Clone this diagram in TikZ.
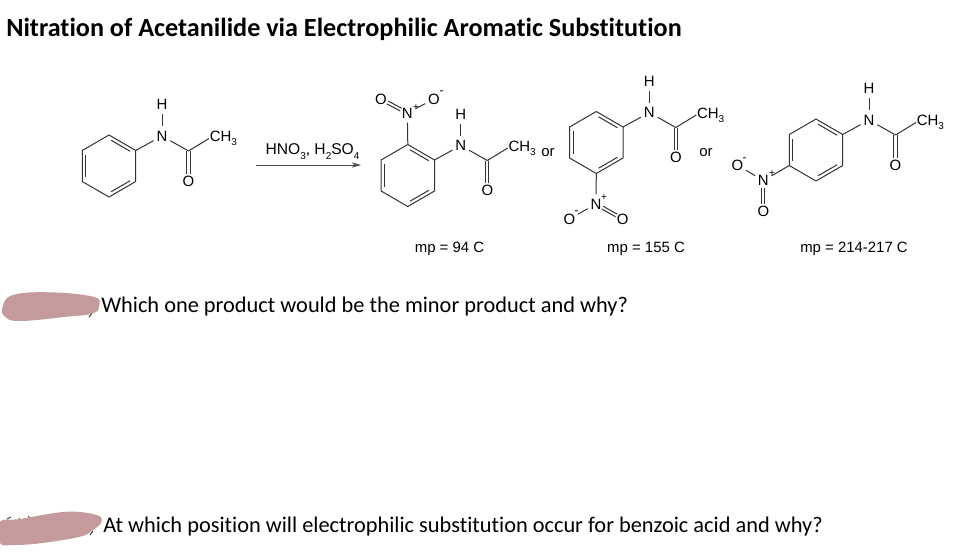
\documentclass[tikz,border=0pt]{standalone}
\usepackage{fontspec}
\setmainfont{Liberation Sans}
\newfontfamily\calfnt[Ligatures=CommonOff]{Carlito}
\usetikzlibrary{calc,arrows.meta}
\definecolor{blot}{HTML}{C49A9C}
\newcommand{\sbs}[1]{\raisebox{-0.28em}{\fontsize{7.5}{8}\selectfont #1}}
% double bond as two parallel lines: start shortening, end shortening, from, to
\newcommand{\dblbond}[4]{\draw[bond,shorten <=#1,shorten >=#2] ($(#3)!1.15pt!90:(#4)$)--($(#4)!1.15pt!-90:(#3)$);
  \draw[bond,shorten <=#1,shorten >=#2] ($(#3)!1.15pt!-90:(#4)$)--($(#4)!1.15pt!90:(#3)$);}
\tikzset{
  x=0.75pt,y=-0.75pt,
  atom/.style={font=\fontsize{11.2}{13}\selectfont,inner sep=1pt,circle},
  methyl/.style={font=\fontsize{11.2}{13}\selectfont,inner sep=0.4pt,anchor=west},
  chg/.style={font=\fontsize{7.5}{8}\selectfont,inner sep=0pt},
  minus/.style={font=\fontsize{9}{9}\selectfont,inner sep=0pt},
  lbl/.style={font=\fontsize{11.2}{13}\selectfont,inner sep=0pt},
  bond/.style={line width=0.75pt,draw=black!80},
  body/.style={font=\calfnt\fontsize{16.77}{20}\selectfont,inner sep=0pt,anchor=base west},
  smear/.style={fill=blot,draw=none},
  acetanilide/.pic={
    \coordinate (ctr) at (0,0);
    \coordinate (r1) at (0,-31);
    \coordinate (r2) at (26.7,-15.5);
    \coordinate (r3) at (26.7,15.5);
    \coordinate (r4) at (0,31);
    \coordinate (r5) at (-26.7,15.5);
    \coordinate (r6) at (-26.7,-15.5);
    \coordinate (cb) at (79.5,-15);
    \node[atom] (n) at (53,-30) {N};
    \node[atom] (h) at (53,-61.5) {H};
    \node[atom] (o) at (79.5,15) {O};
    \node[methyl] (me) at (100,-27.5) {CH\sbs{3}};
    \draw[bond,line join=round] (r1)--(r2)--(r3)--(r4)--(r5)--(r6)--cycle;
    \draw[bond] ($(r1)!0.14!(ctr)!0.08!(r2)$)--($(r2)!0.14!(ctr)!0.08!(r1)$);
    \draw[bond] ($(r3)!0.14!(ctr)!0.08!(r4)$)--($(r4)!0.14!(ctr)!0.08!(r3)$);
    \draw[bond] ($(r5)!0.14!(ctr)!0.08!(r6)$)--($(r6)!0.14!(ctr)!0.08!(r5)$);
    \draw[bond] (r2)--(n);
    \draw[bond] (n)--(h);
    \draw[bond] (n)--(cb);
    \draw[bond] (cb)--(me.west);
    \dblbond{0pt}{5.5pt}{cb}{o}
  }
}
\begin{document}
\begin{tikzpicture}
\useasboundingbox (0,0) rectangle (962,551);
\fill[white] (0,0) rectangle (962,551);

\node[font=\calfnt\bfseries\fontsize{19.63}{23}\selectfont,inner sep=0pt,anchor=base west] (title) at (6,36) {Nitration of Acetanilide via Electrophilic Aromatic Substitution};

% molecules
\pic (a) at (109,166) {acetanilide};
\pic (b) at (407.8,175.5) {acetanilide};
\pic (c) at (596.3,142.5) {acetanilide};
\pic (d) at (816,150) {acetanilide};

% reagent arrow
\coordinate (arrs) at (256,165);
\coordinate (arre) at (361,165);
\draw[line width=0.75pt,draw=black!70,-{Stealth[length=7pt,width=4pt,fill=black]}] (arrs)--(arre);
\node[lbl,font=\fontsize{11.7}{13}\selectfont] (reagent) at (312.5,151.5) {HNO\sbs{3}, H\sbs{2}SO\sbs{4}};

% ortho nitro
\node[atom] (bN) at (407.3,113) {N};
\node[atom] (bO1) at (381,99) {O};
\node[atom] (bO2) at (434,99) {O};
\node[chg] (bp) at (416,108) {+};
\node[minus] (bm) at (441.5,93) {-};
\draw[bond] (br1)--(bN);
\dblbond{5.5pt}{5.5pt}{bN}{bO1}
\draw[bond] (bN)--(bO2);

% meta nitro
\node[atom] (cN) at (596,204) {N};
\node[atom] (cO1) at (569.3,219) {O};
\node[atom] (cO2) at (622.7,219) {O};
\node[chg] (cp) at (604,197.5) {+};
\node[minus] (cm) at (576.5,213) {-};
\draw[bond] (cr4)--(cN);
\draw[bond] (cN)--(cO1);
\dblbond{5.5pt}{5.5pt}{cN}{cO2}

% para nitro
\node[atom] (dN) at (763.3,180.7) {N};
\node[atom] (dO1) at (737.3,165) {O};
\node[atom] (dO2) at (763.3,211.7) {O};
\node[chg] (dp) at (772,174) {+};
\node[minus] (dm) at (744.5,160) {-};
\draw[bond] (dr5)--(dN);
\draw[bond] (dN)--(dO1);
\dblbond{5.5pt}{5.5pt}{dN}{dO2}

% labels
\node[lbl] (or1) at (548,153) {or};
\node[lbl] (or2) at (706,152.5) {or};
\node[lbl] (mp1) at (449.5,248.5) {mp = 94 C};
\node[lbl] (mp2) at (646,248.5) {mp = 155 C};
\node[lbl] (mp3) at (854,248.5) {mp = 214-217 C};

% questions
\node[body] (q1) at (101,312) {Which one product would be the minor product and why?};
\node[body] (q2) at (103,532) {At which position will electrophilic substitution occur for benzoic acid and why?};

% traces under the smears
\draw[line width=0.7pt,black!80] (92,313)--(89,317);
\draw[line width=0.7pt,black!80] (93,531)--(90,535);
\draw[line width=0.7pt,black!70] (7,519)--(11,517);
\draw[line width=0.7pt,black!70] (19,518) arc[start angle=180,end angle=20,radius=3];
\draw[line width=0.7pt,black!70] (28,516) -- (31,519);

% smears
\fill[smear] plot[smooth cycle,tension=0.7] coordinates {(2.7,306.7) (13,295) (50,292.3) (93,296.7) (99.3,305) (93,313.3) (66.7,316.7) (20,321) (5,316.7)};
\fill[smear] plot[smooth cycle,tension=0.6] coordinates {(0,521.7) (20,519) (66.7,511.7) (96.7,515) (101.7,521.7) (93,530) (80,536.7) (40,543.3) (13,545) (0,543)};
\end{tikzpicture}
\end{document}
